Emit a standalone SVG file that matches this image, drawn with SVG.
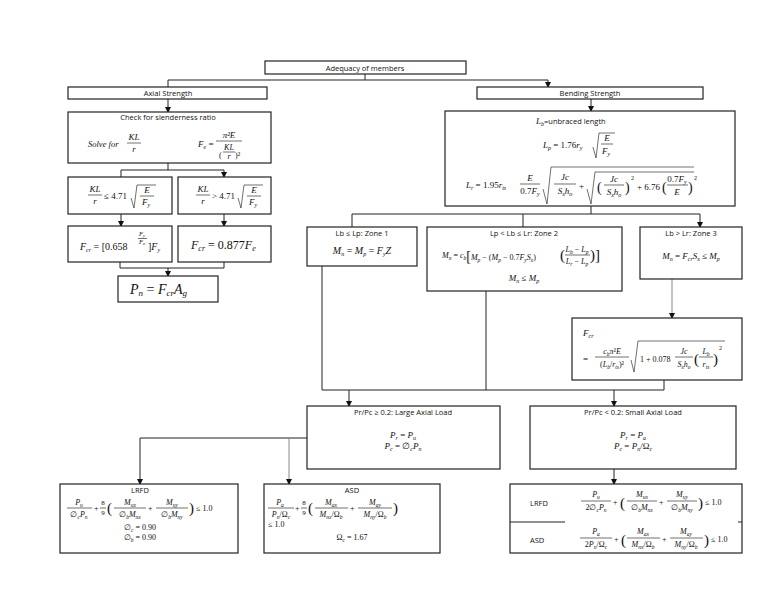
<svg xmlns="http://www.w3.org/2000/svg" width="768" height="594" viewBox="0 0 768 594" font-size="9">
<style>
.b{fill:#fff;stroke:#222;stroke-width:1.2}
.c{fill:none;stroke:#222;stroke-width:1}
.g{fill:none;stroke:#888;stroke-width:1}
.l{font-family:"Open Sans",sans-serif;font-size:7.5px;fill:#111}
.m{font-family:"Liberation Serif",serif;font-style:italic;fill:#111}
.n{font-family:"Liberation Serif",serif;fill:#111}
.f{stroke:#111;stroke-width:0.6;fill:none}
</style>
<defs><marker id="a" markerWidth="6" markerHeight="6" refX="5" refY="3" orient="auto"><path d="M0,0L6,3L0,6z" fill="#111"/></marker></defs>
<rect width="768" height="594" fill="#fff"/>
<g id="connectors">
<path class="c" d="M365,74V80M168,80H548M168,80V87M548,80V87" marker-end="url(#a)"/>
<path class="c" d="M168,99V112" marker-end="url(#a)"/>
<path class="c" d="M168,163V170M121,170H224M121,170V177M224,170V177" marker-end="url(#a)"/>
<path class="c" d="M121,214V226" marker-end="url(#a)"/>
<path class="c" d="M224,214V226" marker-end="url(#a)"/>
<path class="c" d="M120,262V268H224V262M168,268V276" marker-end="url(#a)"/>
<path class="c" d="M591,99V111" marker-end="url(#a)"/>
<path class="c" d="M591,206V214M352,214H700M352,214V227M523,214V227M700,214V227" marker-end="url(#a)"/>
<path class="g" d="M672,279V318" marker-end="url(#a)"/>
<path class="c" d="M322,266V390H664V380M486,291V390"/>
<path class="c" d="M349,390V406" marker-end="url(#a)"/>
<path class="c" d="M614,390V406" marker-end="url(#a)"/>
<path class="c" d="M307,438H140V484" marker-end="url(#a)"/>
<path class="g" d="M289,438V484" marker-end="url(#a)"/>
<path class="c" d="M614,469V484" marker-end="url(#a)"/>
</g>
<g id="adequacy"><rect class="b" x="265" y="61" width="201" height="13"/><text class="l" x="365" y="70.5" text-anchor="middle">Adequacy of members</text></g>
<g id="axial"><rect class="b" x="68" y="87" width="199" height="12"/><text class="l" x="168" y="96" text-anchor="middle">Axial Strength</text></g>
<g id="bending"><rect class="b" x="477" y="87" width="226" height="12"/><text class="l" x="590" y="96" text-anchor="middle">Bending Strength</text></g>
<g id="slender"><rect class="b" x="68" y="112" width="203" height="51"/>
<text class="l" x="168" y="120" text-anchor="middle">Check for slenderness ratio</text>
<text class="m" x="88" y="147" font-family="Liberation Mono" font-size="8.5">Solve for</text>
<text class="m" x="134" y="140" text-anchor="middle">KL</text><path class="f" d="M127,143H141"/><text class="m" x="134" y="152" text-anchor="middle">r</text>
<text class="m" x="198" y="147">F<tspan font-size="6" dy="2">e</tspan><tspan dy="-2" font-style="normal"> =</tspan></text>
<text class="m" x="229" y="138" text-anchor="middle">π²E</text><path class="f" d="M216,141H242"/>
<text class="m" x="229" y="150" text-anchor="middle" font-size="8">KL</text><path class="f" d="M223,152H235"/><text class="n" x="219" y="158" font-size="8">(</text><text class="m" x="229" y="159" text-anchor="middle" font-size="8">r</text><text class="n" x="235" y="158" font-size="8">)²</text>
</g>
<g id="kl1"><rect class="b" x="68" y="177" width="104" height="37"/>
<text class="m" x="95" y="192" text-anchor="middle">KL</text><path class="f" d="M88,195H102"/><text class="m" x="95" y="204" text-anchor="middle">r</text>
<text class="n" x="104" y="199">≤ 4.71</text>
<path class="f" d="M131,198L134,208L137,185H156"/><text class="m" x="147" y="193" text-anchor="middle">E</text><path class="f" d="M140,196H154"/><text class="m" x="146" y="205" text-anchor="middle">F<tspan font-size="6" dy="2">y</tspan></text>
</g>
<g id="kl2"><rect class="b" x="178" y="177" width="93" height="37"/>
<text class="m" x="203" y="192" text-anchor="middle">KL</text><path class="f" d="M196,195H210"/><text class="m" x="203" y="204" text-anchor="middle">r</text>
<text class="n" x="212" y="199">&gt; 4.71</text>
<path class="f" d="M238,198L241,208L244,185H263"/><text class="m" x="254" y="193" text-anchor="middle">E</text><path class="f" d="M247,196H261"/><text class="m" x="253" y="205" text-anchor="middle">F<tspan font-size="6" dy="2">y</tspan></text>
</g>
<g id="fcr1"><rect class="b" x="68" y="226" width="104" height="36"/>
<text class="m" x="80" y="250" font-size="10">F<tspan font-size="6" dy="2">cr</tspan><tspan dy="-2" font-style="normal"> = [0.658</tspan></text>
<text class="m" x="139" y="236" font-size="6.5">F<tspan font-size="4.5" dy="1">y</tspan></text><path class="f" d="M138,238.5H147"/><text class="m" x="139" y="244" font-size="6.5">F<tspan font-size="4.5" dy="1">e</tspan></text>
<text class="m" x="148" y="250" font-size="10"><tspan font-style="normal">]</tspan>F<tspan font-size="6" dy="2">y</tspan></text>
</g>
<g id="fcr2"><rect class="b" x="178" y="226" width="93" height="36"/>
<text class="m" x="191" y="249" font-size="12">F<tspan font-size="8" dy="2">cr</tspan><tspan dy="-2" font-style="normal"> = 0.877</tspan>F<tspan font-size="8" dy="2">e</tspan></text>
</g>
<g id="pn"><rect class="b" x="118" y="276" width="100" height="26"/>
<text class="m" x="130" y="294" font-size="14">P<tspan font-size="9" dy="2">n</tspan><tspan dy="-2" font-style="normal"> = </tspan>F<tspan font-size="9" dy="2">cr</tspan><tspan dy="-2">A</tspan><tspan font-size="9" dy="2">g</tspan></text>
</g>
<g id="lengths"><rect class="b" x="445" y="111" width="290" height="95"/>
<text class="m" x="536" y="124">L<tspan font-size="6" dy="2">b</tspan><tspan dy="-2" class="l" font-style="normal">=unbraced length</tspan></text>
<text class="m" x="543" y="148">L<tspan font-size="6" dy="2">p</tspan><tspan dy="-2" font-style="normal"> = 1.76</tspan>r<tspan font-size="6" dy="2">y</tspan></text>
<path class="f" d="M593,147L596,158L599,133H615"/><text class="m" x="607" y="141" text-anchor="middle">E</text><path class="f" d="M601,144H613"/><text class="m" x="606" y="154" text-anchor="middle">F<tspan font-size="6" dy="2">y</tspan></text>
<text class="m" x="466" y="188">L<tspan font-size="6" dy="2">r</tspan><tspan dy="-2" font-style="normal"> = 1.95</tspan>r<tspan font-size="6" dy="2">ts</tspan></text>
<text class="m" x="530" y="181" text-anchor="middle">E</text><path class="f" d="M520,184H540"/><text class="n" x="530" y="194" text-anchor="middle">0.7<tspan font-style="italic">F</tspan><tspan font-size="6" dy="2" font-style="italic">y</tspan></text>
<path class="f" d="M543,189L547,204L551,167H694"/>
<text class="m" x="565" y="180" text-anchor="middle">Jc</text><path class="f" d="M554,184H576"/><text class="m" x="565" y="194" text-anchor="middle">S<tspan font-size="6" dy="2">x</tspan><tspan dy="-2">h</tspan><tspan font-size="6" dy="2">o</tspan></text>
<text class="n" x="579" y="189">+</text>
<path class="f" d="M587,189L591,204L595,172H694"/>
<text class="n" x="597" y="192" font-size="14">(</text><text class="m" x="614" y="182" text-anchor="middle">Jc</text><path class="f" d="M604,185H624"/><text class="m" x="614" y="195" text-anchor="middle">S<tspan font-size="6" dy="2">x</tspan><tspan dy="-2">h</tspan><tspan font-size="6" dy="2">o</tspan></text><text class="n" x="625" y="192" font-size="14">)</text><text class="n" x="631" y="180" font-size="6">2</text>
<text class="n" x="637" y="190">+ 6.76</text>
<text class="n" x="662" y="192" font-size="14">(</text><text class="n" x="677" y="182" text-anchor="middle">0.7<tspan font-style="italic">F</tspan><tspan font-size="6" font-style="italic" dy="2">y</tspan></text><path class="f" d="M667,185H688"/><text class="m" x="677" y="195" text-anchor="middle">E</text><text class="n" x="688" y="192" font-size="14">)</text><text class="n" x="694" y="180" font-size="6">2</text>
</g>
<g id="zone1"><rect class="b" x="307" y="227" width="110" height="39"/>
<text class="l" x="362" y="236" text-anchor="middle">Lb ≤ Lp: Zone 1</text>
<text class="m" x="362" y="254" text-anchor="middle" font-size="10">M<tspan font-size="6" dy="2">n</tspan><tspan dy="-2" font-style="normal"> = </tspan>M<tspan font-size="6" dy="2">p</tspan><tspan dy="-2" font-style="normal"> = </tspan>F<tspan font-size="6" dy="2">y</tspan><tspan dy="-2">Z</tspan></text>
</g>
<g id="zone2"><rect class="b" x="427" y="227" width="195" height="64"/>
<text class="l" x="524" y="236" text-anchor="middle">Lp &lt; Lb ≤ Lr: Zone 2</text>
<text class="m" x="442" y="258" font-size="8">M<tspan font-size="5.5" dy="2">n</tspan><tspan dy="-2" font-style="normal"> = </tspan>c<tspan font-size="5.5" dy="2">b</tspan><tspan dy="1" font-style="normal" font-size="14">[</tspan><tspan dy="-1">M</tspan><tspan font-size="5.5" dy="2">p</tspan><tspan dy="-2" font-style="normal"> − (</tspan>M<tspan font-size="5.5" dy="2">p</tspan><tspan dy="-2" font-style="normal"> − 0.7</tspan>F<tspan font-size="5.5" dy="2">y</tspan><tspan dy="-2">S</tspan><tspan font-size="5.5" dy="2">x</tspan><tspan dy="-2" font-style="normal">)</tspan></text>
<text class="n" x="560" y="260" font-size="15">(</text>
<text class="m" x="577" y="252" text-anchor="middle" font-size="8">L<tspan font-size="5.5" dy="2">b</tspan><tspan dy="-2" font-style="normal"> − </tspan>L<tspan font-size="5.5" dy="2">p</tspan></text><path class="f" d="M565,255H590"/><text class="m" x="577" y="264" text-anchor="middle" font-size="8">L<tspan font-size="5.5" dy="2">r</tspan><tspan dy="-2" font-style="normal"> − </tspan>L<tspan font-size="5.5" dy="2">p</tspan></text>
<text class="n" x="590" y="260" font-size="15">)]</text>
<text class="m" x="524" y="281" text-anchor="middle">M<tspan font-size="6" dy="2">n</tspan><tspan dy="-2" font-style="normal"> ≤ </tspan>M<tspan font-size="6" dy="2">p</tspan></text>
</g>
<g id="zone3"><rect class="b" x="640" y="227" width="102" height="52"/>
<text class="l" x="691" y="236" text-anchor="middle">Lb &gt; Lr: Zone 3</text>
<text class="m" x="691" y="259" text-anchor="middle">M<tspan font-size="6" dy="2">n</tspan><tspan dy="-2" font-style="normal"> = </tspan>F<tspan font-size="6" dy="2">cr</tspan><tspan dy="-2">S</tspan><tspan font-size="6" dy="2">x</tspan><tspan dy="-2" font-style="normal"> ≤ </tspan>M<tspan font-size="6" dy="2">p</tspan></text>
</g>
<g id="fcr3"><rect class="b" x="572" y="318" width="170" height="62"/>
<text class="m" x="583" y="336">F<tspan font-size="6" dy="2">cr</tspan></text>
<text class="n" x="583" y="362">=</text>
<text class="m" x="612" y="354" text-anchor="middle" font-size="8">c<tspan font-size="5.5" dy="2">b</tspan><tspan dy="-2" font-style="normal">π²</tspan>E</text><path class="f" d="M595,357H629"/><text class="m" x="612" y="367" text-anchor="middle" font-size="8"><tspan font-style="normal">(</tspan>L<tspan font-size="5.5" dy="2">b</tspan><tspan dy="-2" font-style="normal">/</tspan>r<tspan font-size="5.5" dy="2">ts</tspan><tspan dy="-2" font-style="normal">)²</tspan></text>
<path class="f" d="M631,360L634,372L638,341H725"/>
<text class="n" x="640" y="362" font-size="8">1 + 0.078</text>
<text class="m" x="684" y="354" text-anchor="middle" font-size="8">Jc</text><path class="f" d="M675,357H693"/><text class="m" x="684" y="367" text-anchor="middle" font-size="8">S<tspan font-size="5.5" dy="2">x</tspan><tspan dy="-2">h</tspan><tspan font-size="5.5" dy="2">o</tspan></text>
<text class="n" x="694" y="364" font-size="15">(</text><text class="m" x="706" y="354" text-anchor="middle" font-size="8">L<tspan font-size="5.5" dy="2">b</tspan></text><path class="f" d="M699,357H713"/><text class="m" x="706" y="367" text-anchor="middle" font-size="8">r<tspan font-size="5.5" dy="2">ts</tspan></text><text class="n" x="713" y="364" font-size="15">)</text><text class="n" x="719" y="350" font-size="6">2</text>
</g>
<g id="large"><rect class="b" x="307" y="406" width="193" height="63"/>
<text class="l" x="403" y="415" text-anchor="middle">Pr/Pc ≥ 0.2: Large Axial Load</text>
<text class="m" x="403" y="438" text-anchor="middle">P<tspan font-size="6" dy="2">r</tspan><tspan dy="-2" font-style="normal"> = </tspan>P<tspan font-size="6" dy="2">u</tspan></text>
<text class="m" x="403" y="449" text-anchor="middle">P<tspan font-size="6" dy="2">c</tspan><tspan dy="-2" font-style="normal"> = ∅</tspan><tspan font-size="6" dy="2">c</tspan><tspan dy="-2">P</tspan><tspan font-size="6" dy="2">n</tspan></text>
</g>
<g id="small"><rect class="b" x="530" y="406" width="206" height="63"/>
<text class="l" x="633" y="415" text-anchor="middle">Pr/Pc &lt; 0.2: Small Axial Load</text>
<text class="m" x="633" y="438" text-anchor="middle">P<tspan font-size="6" dy="2">r</tspan><tspan dy="-2" font-style="normal"> = </tspan>P<tspan font-size="6" dy="2">a</tspan></text>
<text class="m" x="633" y="449" text-anchor="middle">P<tspan font-size="6" dy="2">c</tspan><tspan dy="-2" font-style="normal"> = </tspan>P<tspan font-size="6" dy="2">n</tspan><tspan dy="-2" font-style="normal">/Ω</tspan><tspan font-size="6" dy="2">c</tspan></text>
</g>
<g id="lrfd"><rect class="b" x="60" y="484" width="178" height="69"/>
<text class="l" x="140" y="493" text-anchor="middle">LRFD</text>
<text class="m" x="79" y="505" text-anchor="middle" font-size="8">P<tspan font-size="5.5" dy="2">u</tspan></text><path class="f" d="M67,508H92"/><text class="m" x="79" y="517" text-anchor="middle" font-size="8"><tspan font-style="normal">∅</tspan><tspan font-size="5.5" dy="2">c</tspan><tspan dy="-2">P</tspan><tspan font-size="5.5" dy="2">n</tspan></text>
<text class="n" x="94" y="511" font-size="8">+</text>
<text class="n" x="103" y="505" font-size="7" text-anchor="middle">8</text><path class="f" d="M100,508H106"/><text class="n" x="103" y="515" font-size="7" text-anchor="middle">9</text>
<text class="n" x="107" y="513" font-size="15">(</text>
<text class="m" x="130" y="505" text-anchor="middle" font-size="8">M<tspan font-size="5.5" dy="2">ux</tspan></text><path class="f" d="M114,508H146"/><text class="m" x="130" y="517" text-anchor="middle" font-size="8"><tspan font-style="normal">∅</tspan><tspan font-size="5.5" dy="2">b</tspan><tspan dy="-2">M</tspan><tspan font-size="5.5" dy="2">nx</tspan></text>
<text class="n" x="148" y="511" font-size="8">+</text>
<text class="m" x="172" y="505" text-anchor="middle" font-size="8">M<tspan font-size="5.5" dy="2">uy</tspan></text><path class="f" d="M156,508H188"/><text class="m" x="172" y="517" text-anchor="middle" font-size="8"><tspan font-style="normal">∅</tspan><tspan font-size="5.5" dy="2">b</tspan><tspan dy="-2">M</tspan><tspan font-size="5.5" dy="2">ny</tspan></text>
<text class="n" x="189" y="513" font-size="15">)</text>
<text class="n" x="196" y="511" font-size="8">≤ 1.0</text>
<text class="n" x="140" y="530" text-anchor="middle" font-size="8">∅<tspan font-size="5.5" dy="2" font-style="italic">c</tspan><tspan dy="-2"> = 0.90</tspan></text>
<text class="n" x="140" y="540" text-anchor="middle" font-size="8">∅<tspan font-size="5.5" dy="2" font-style="italic">b</tspan><tspan dy="-2"> = 0.90</tspan></text>
</g>
<g id="asd"><rect class="b" x="264" y="484" width="176" height="69"/>
<text class="l" x="352" y="493" text-anchor="middle">ASD</text>
<text class="m" x="280" y="505" text-anchor="middle" font-size="8">P<tspan font-size="5.5" dy="2">a</tspan></text><path class="f" d="M268,508H294"/><text class="m" x="281" y="517" text-anchor="middle" font-size="8">P<tspan font-size="5.5" dy="2">n</tspan><tspan dy="-2" font-style="normal">/Ω</tspan><tspan font-size="5.5" dy="2">c</tspan></text>
<text class="n" x="295" y="511" font-size="8">+</text>
<text class="n" x="304" y="505" font-size="7" text-anchor="middle">8</text><path class="f" d="M301,508H307"/><text class="n" x="304" y="515" font-size="7" text-anchor="middle">9</text>
<text class="n" x="308" y="513" font-size="15">(</text>
<text class="m" x="331" y="505" text-anchor="middle" font-size="8">M<tspan font-size="5.5" dy="2">ax</tspan></text><path class="f" d="M315,508H348"/><text class="m" x="331" y="517" text-anchor="middle" font-size="8">M<tspan font-size="5.5" dy="2">nx</tspan><tspan dy="-2" font-style="normal">/Ω</tspan><tspan font-size="5.5" dy="2">b</tspan></text>
<text class="n" x="350" y="511" font-size="8">+</text>
<text class="m" x="375" y="505" text-anchor="middle" font-size="8">M<tspan font-size="5.5" dy="2">ay</tspan></text><path class="f" d="M358,508H392"/><text class="m" x="375" y="517" text-anchor="middle" font-size="8">M<tspan font-size="5.5" dy="2">ny</tspan><tspan dy="-2" font-style="normal">/Ω</tspan><tspan font-size="5.5" dy="2">b</tspan></text>
<text class="n" x="393" y="513" font-size="15">)</text>
<text class="n" x="268" y="527" font-size="8">≤ 1.0</text>
<text class="n" x="352" y="540" text-anchor="middle" font-size="8">Ω<tspan font-size="5.5" dy="2" font-style="italic">c</tspan><tspan dy="-2"> = 1.67</tspan></text>
</g>
<g id="smalleq"><rect class="b" x="510" y="484" width="232" height="69"/>
<path class="c" d="M510,522H565M738,522H742"/>
<text class="l" x="530" y="506">LRFD</text>
<text class="l" x="530" y="543">ASD</text>
<text class="m" x="596" y="497" text-anchor="middle" font-size="8">P<tspan font-size="5.5" dy="2">u</tspan></text><path class="f" d="M581,501H611"/><text class="m" x="596" y="510" text-anchor="middle" font-size="8"><tspan font-style="normal">2∅</tspan><tspan font-size="5.5" dy="2">c</tspan><tspan dy="-2">P</tspan><tspan font-size="5.5" dy="2">n</tspan></text>
<text class="n" x="613" y="505" font-size="8">+</text>
<text class="n" x="620" y="508" font-size="15">(</text>
<text class="m" x="642" y="497" text-anchor="middle" font-size="8">M<tspan font-size="5.5" dy="2">ux</tspan></text><path class="f" d="M627,501H657"/><text class="m" x="642" y="510" text-anchor="middle" font-size="8"><tspan font-style="normal">∅</tspan><tspan font-size="5.5" dy="2">b</tspan><tspan dy="-2">M</tspan><tspan font-size="5.5" dy="2">nx</tspan></text>
<text class="n" x="659" y="505" font-size="8">+</text>
<text class="m" x="682" y="497" text-anchor="middle" font-size="8">M<tspan font-size="5.5" dy="2">uy</tspan></text><path class="f" d="M667,501H697"/><text class="m" x="682" y="510" text-anchor="middle" font-size="8"><tspan font-style="normal">∅</tspan><tspan font-size="5.5" dy="2">b</tspan><tspan dy="-2">M</tspan><tspan font-size="5.5" dy="2">ny</tspan></text>
<text class="n" x="698" y="508" font-size="15">)</text>
<text class="n" x="705" y="505" font-size="8">≤ 1.0</text>
<text class="m" x="596" y="534" text-anchor="middle" font-size="8">P<tspan font-size="5.5" dy="2">a</tspan></text><path class="f" d="M580,538H612"/><text class="m" x="596" y="547" text-anchor="middle" font-size="8"><tspan font-style="normal">2</tspan>P<tspan font-size="5.5" dy="2">n</tspan><tspan dy="-2" font-style="normal">/Ω</tspan><tspan font-size="5.5" dy="2">c</tspan></text>
<text class="n" x="614" y="542" font-size="8">+</text>
<text class="n" x="621" y="545" font-size="15">(</text>
<text class="m" x="643" y="534" text-anchor="middle" font-size="8">M<tspan font-size="5.5" dy="2">ax</tspan></text><path class="f" d="M627,538H660"/><text class="m" x="643" y="547" text-anchor="middle" font-size="8">M<tspan font-size="5.5" dy="2">nx</tspan><tspan dy="-2" font-style="normal">/Ω</tspan><tspan font-size="5.5" dy="2">b</tspan></text>
<text class="n" x="662" y="542" font-size="8">+</text>
<text class="m" x="686" y="534" text-anchor="middle" font-size="8">M<tspan font-size="5.5" dy="2">ay</tspan></text><path class="f" d="M670,538H703"/><text class="m" x="686" y="547" text-anchor="middle" font-size="8">M<tspan font-size="5.5" dy="2">ny</tspan><tspan dy="-2" font-style="normal">/Ω</tspan><tspan font-size="5.5" dy="2">b</tspan></text>
<text class="n" x="704" y="545" font-size="15">)</text>
<text class="n" x="711" y="542" font-size="8">≤ 1.0</text>
</g>
</svg>
